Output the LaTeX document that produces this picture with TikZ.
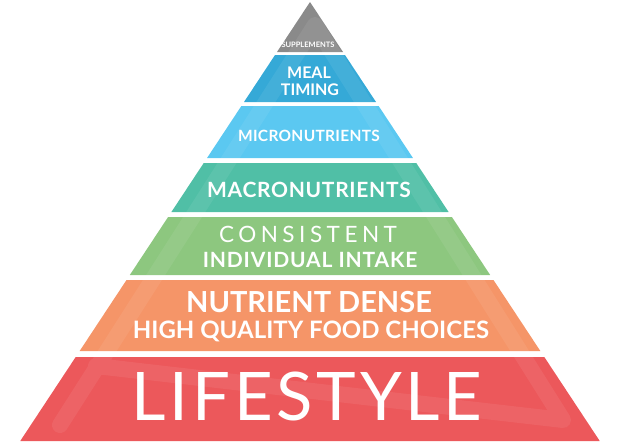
\documentclass[tikz,border=0pt]{standalone}
\usepackage{fontspec}
\setmainfont{Lato}
\newfontfamily\latob{Lato}[UprightFont=* Bold]
\begin{document}
\begin{tikzpicture}[x=1pt,y=-1pt,
  lbl/.style={text=white,anchor=base,inner sep=0pt,outer sep=0pt},
  shine/.style={draw=white,draw opacity=0.07,line width=16pt,line cap=round,line join=round}]
\definecolor{cSupp}{HTML}{8A8A8A}
\definecolor{cMeal}{HTML}{35A9D7}
\definecolor{cMicro}{HTML}{5BC8F1}
\definecolor{cMacro}{HTML}{50BFA6}
\definecolor{cGreen}{HTML}{8DC77F}
\definecolor{cOrange}{HTML}{F59568}
\definecolor{cRed}{HTML}{EC585B}
\useasboundingbox (0,0) rectangle (624,445);
\def\cx{310}
\def\sl{0.66}
\newcommand\pyrlayer[3]{%
  \fill[#3] ({\cx-\sl*(#1-2)},#1) -- ({\cx+\sl*(#1-2)},#1) -- ({\cx+\sl*(#2-2)},#2) -- ({\cx-\sl*(#2-2)},#2) -- cycle;}
% layers
\fill[cSupp] (\cx,2) -- ({\cx+\sl*50},52) -- ({\cx-\sl*50},52) -- cycle;
\pyrlayer{55}{102}{cMeal}
\pyrlayer{106}{158}{cMicro}
\pyrlayer{163}{212}{cMacro}
\pyrlayer{217}{275}{cGreen}
\pyrlayer{280}{351}{cOrange}
\pyrlayer{357}{441}{cRed}
% decorative light stroke
\begin{scope}
\clip (\cx,2) -- ({\cx+\sl*439},441) -- ({\cx-\sl*439},441) -- cycle;
\path[shine] (60,425) -- (315,25) -- (563,420) -- (96,366);
\end{scope}
% labels
\node[lbl,font=\latob\fontsize{7.5}{8}\selectfont] (supp) at (308,47) {SUPPLEMENTS};
\node[lbl,font=\latob\fontsize{16}{18}\selectfont] (meal) at (309,78) {MEAL};
\node[lbl,font=\latob\fontsize{16}{18}\selectfont] (timing) at (310,95) {TIMING};
\node[lbl,font=\latob\fontsize{15.5}{18}\selectfont\addfontfeature{LetterSpace=2}] (micro) at (309,141) {MICRONUTRIENTS};
\node[lbl,font=\latob\fontsize{21}{24}\selectfont\addfontfeature{LetterSpace=3.3}] (macro) at (309,197) {MACRONUTRIENTS};
\node[lbl,font=\fontsize{22.5}{26}\selectfont\addfontfeature{LetterSpace=20}] (consistent) at (308,242) {CONSISTENT};
\node[lbl,font=\latob\fontsize{21}{24}\selectfont\addfontfeature{LetterSpace=4}] (indiv) at (310,267) {INDIVIDUAL INTAKE};
\node[lbl,font=\latob\fontsize{29}{32}\selectfont] (dense) at (309,312) {NUTRIENT DENSE};
\node[lbl,font=\latob\fontsize{24}{27}\selectfont] (quality) at (311,338) {HIGH QUALITY FOOD CHOICES};
\node[lbl,font=\fontsize{67}{70}\selectfont\addfontfeature{LetterSpace=5.6}] (life) at (307,420) {LIFESTYLE};
\end{tikzpicture}
\end{document}
